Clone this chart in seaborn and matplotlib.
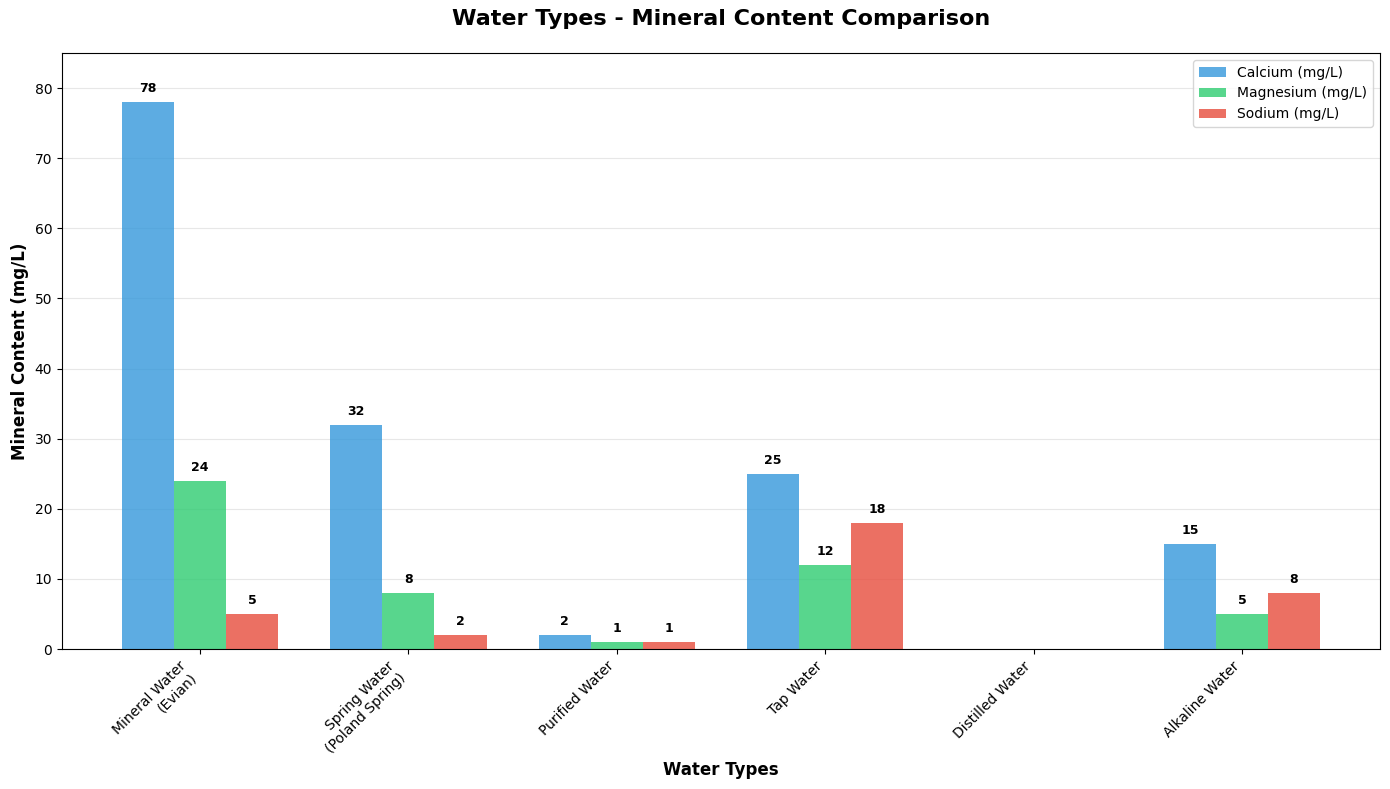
import pandas as pd
import matplotlib
matplotlib.use("Agg")
import matplotlib.pyplot as plt
import seaborn as sns

# Data
water_types = ["Mineral Water\n(Evian)", "Spring Water\n(Poland Spring)", "Purified Water",
               "Tap Water", "Distilled Water", "Alkaline Water"]
calcium = [78, 32, 2, 25, 0, 15]
magnesium = [24, 8, 1, 12, 0, 5]
sodium = [5, 2, 1, 18, 0, 8]

series_names = ["Calcium (mg/L)", "Magnesium (mg/L)", "Sodium (mg/L)"]
colors = ["#3498db", "#2ecc71", "#e74c3c"]

# long format for seaborn
rows = []
for name, vals in zip(series_names, [calcium, magnesium, sodium]):
    for wt, v in zip(water_types, vals):
        rows.append({"Water Type": wt, "Mineral": name, "Value": v})
df = pd.DataFrame(rows)

# keep plain matplotlib look (black text, default ticks)
plt.rcParams['font.family'] = ['DejaVu Sans']

fig, ax = plt.subplots(figsize=(13.9, 7.89), dpi=100)
sns.barplot(data=df, x="Water Type", y="Value", hue="Mineral", hue_order=series_names,
            order=water_types, palette=colors, alpha=0.8, width=0.75, gap=0,
            saturation=1, errorbar=None, linewidth=0, ax=ax)

# value labels above bars (skip zeros)
for container in ax.containers:
    for bar in container:
        h = bar.get_height()
        if h > 0:
            ax.text(bar.get_x() + bar.get_width() / 2, h + 1, f"{int(h)}",
                    ha="center", va="bottom", fontsize=9, fontweight="bold")

ax.set_title("Water Types - Mineral Content Comparison", fontsize=16, fontweight="bold", pad=20)
ax.set_xlabel("Water Types", fontsize=12, fontweight="bold")
ax.set_ylabel("Mineral Content (mg/L)", fontsize=12, fontweight="bold")
ax.set_ylim(0, 85)
ax.set_xlim(-0.6625, 5.6625)
plt.setp(ax.get_xticklabels(), rotation=45, ha="right")
ax.grid(axis="y", alpha=0.3)
ax.grid(axis="x", visible=False)
ax.set_axisbelow(True)
ax.legend(loc="upper right", title=None)

fig.subplots_adjust(left=0.0446, right=0.9928, top=0.9328, bottom=0.1774)
plt.savefig("out.png", dpi=100)
